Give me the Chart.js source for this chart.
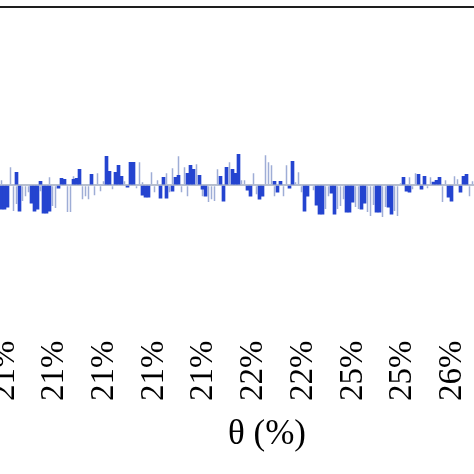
<!DOCTYPE html>
<html>
<head>
<meta charset="utf-8">
<script src="https://cdn.jsdelivr.net/npm/chart.js@4/dist/chart.umd.min.js"></script>
<style>
  html, body { margin: 0; padding: 0; background: #ffffff; }
  #wrap { width: 474px; height: 474px; }
</style>
</head>
<body>
<div id="wrap"><canvas id="c" width="474" height="474"></canvas></div>
<script>
// Series values (relative deviation per sample)
const darkValues = [
  -24,-24,-22,null,null,13,-26,null,null,null,
  -18,-26,-24,4,-28,-28,-26,null,null,-3,
  7,6,null,null,6,7,16,null,null,null,
  11,null,null,null,null,29,14,null,13,20,
  9,null,-2,23,23,null,null,-10,-12,-12,
  null,null,null,-13,8,-13,null,-6,8,10,
  null,null,12,20,16,null,10,-4,-11,null,
  null,null,null,9,-16,18,null,16,12,31,
  null,null,-5,-11,null,null,-14,-11,null,null,
  null,4,-7,4,null,null,-3,24,null,null,
  null,-26,-11,null,null,-20,-29,-29,null,null,
  -8,-29,null,null,null,-27,-27,-17,null,null,
  -24,-18,null,null,null,-27,-27,null,null,-22,
  -29,null,null,null,8,-6,-7,null,null,11,
  -4,9,null,null,3,5,8,null,null,-12,
  -16,null,null,-7,9,11,null,null
];
const lightValues = [
  5,null,null,18,-26,-19,null,-16,-11,-7,
  null,null,null,-6,null,null,8,-21,-23,null,
  null,null,-27,-27,9,null,null,-14,-11,-14,
  null,-10,12,-6,4,null,null,-4,null,null,
  null,4,null,null,null,-3,23,3,null,null,
  13,-7,5,null,null,12,-7,17,null,29,
  -7,18,-11,null,null,21,null,-11,null,-17,
  -14,-16,16,null,null,null,23,null,null,null,
  5,5,null,null,12,-9,null,null,30,23,
  20,-11,null,null,-11,20,null,null,3,13,
  -7,null,null,1,-5,null,null,null,-24,-11,
  null,null,-24,-21,-14,null,null,null,-22,-24,
  null,null,-27,-31,-20,null,null,-32,-22,null,
  null,-26,-31,2,null,null,8,-4,12,null,
  null,null,-3,8,null,null,null,-17,5,null,
  null,9,6,null,null,null,-11,4
];
const categories = darkValues.map((_, i) => String(i + 1));
// Tick labels of the θ axis
const tickLabels = ['21%','21%','21%','21%','21%','22%','22%','25%','25%','26%'];
const tickPositions = [0,1,2,3,4,5,6,7,8,9];

// The original figure continues past the right edge of this crop, so the axis
// title is centred on the full (wider) axis rather than on the visible part.
const titleShift = {
  id: 'titleShift',
  afterLayout(chart) {
    const s = chart.scales.xl;
    s.right = s.left + 534;
  }
};

const ctx = document.getElementById('c').getContext('2d');
new Chart(ctx, {
  type: 'bar',
  data: {
    labels: categories,
    datasets: [
      {
        label: 'dark',
        data: darkValues,
        backgroundColor: '#2444d0',
        borderWidth: 0,
        barPercentage: 1.0,
        categoryPercentage: 1.0,
        grouped: false,
        xAxisID: 'x',
        yAxisID: 'y'
      },
      {
        label: 'light',
        data: lightValues,
        backgroundColor: '#9eadd6',
        borderWidth: 0,
        barPercentage: 0.5,
        categoryPercentage: 1.0,
        grouped: false,
        xAxisID: 'x',
        yAxisID: 'y'
      }
    ]
  },
  plugins: [titleShift],
  options: {
    responsive: false,
    animation: false,
    maintainAspectRatio: false,
    layout: { padding: { top: 7, left: 0, right: 0, bottom: 18 } },
    plugins: { legend: { display: false }, tooltip: { enabled: false } },
    scales: {
      x: {
        type: 'category',
        display: false,
        offset: true
      },
      xTop: {
        type: 'linear',
        position: 'top',
        display: true,
        offset: false,
        min: 0, max: 1,
        ticks: { display: false },
        grid: { display: false, drawTicks: false },
        border: { display: true, color: '#1e1e1e', width: 2 }
      },
      xl: {
        type: 'linear',
        position: 'bottom',
        offset: false,
        min: -0.1,
        max: 9.437,
        afterBuildTicks: (scale) => { scale.ticks = tickPositions.map(v => ({ value: v })); },
        afterFit: (scale) => { scale.paddingLeft = 0; scale.paddingRight = 0; },
        ticks: {
          autoSkip: false,
          minRotation: 90,
          maxRotation: 90,
          padding: 6,
          color: '#000000',
          font: { family: 'Liberation Serif', size: 33 },
          callback: (v) => tickLabels[tickPositions.indexOf(v)]
        },
        grid: { display: false, drawTicks: false },
        border: { display: false },
        title: {
          display: true,
          text: 'θ (%)',
          color: '#000000',
          font: { family: 'Liberation Serif', size: 35 },
          padding: { top: 7, bottom: 0 }
        }
      },
      y: {
        type: 'linear',
        display: true,
        min: -150,
        max: 179,
        ticks: { display: false, stepSize: 50 },
        grid: {
          drawTicks: false,
          lineWidth: 2,
          color: (c) => (c.tick && c.tick.value === 0) ? '#b7bfcf' : 'rgba(0,0,0,0)'
        },
        border: { display: false }
      }
    }
  }
});
</script>
</body>
</html>
